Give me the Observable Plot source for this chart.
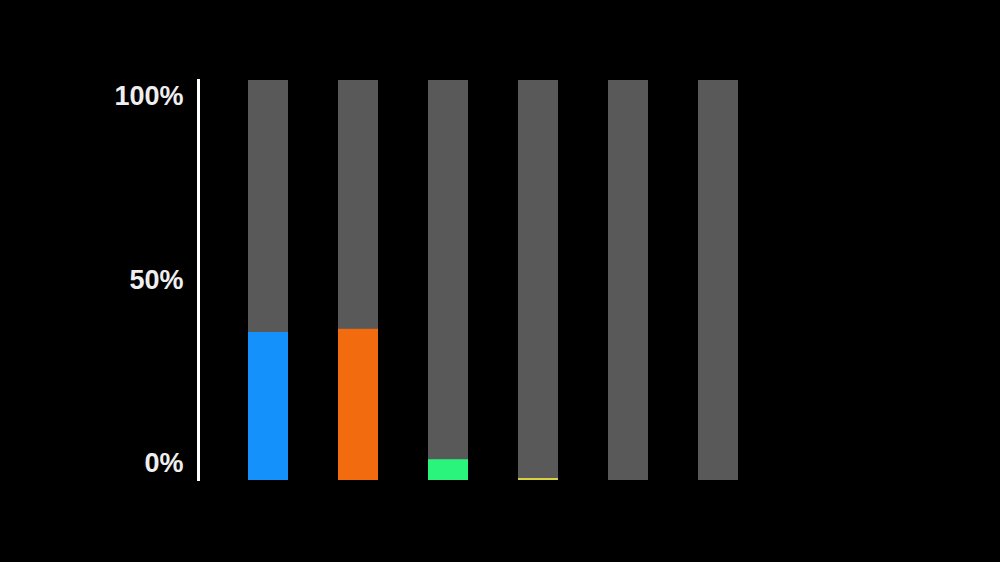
<!DOCTYPE html>
<html>
<head>
<meta charset="utf-8">
<script src="https://cdn.jsdelivr.net/npm/d3@7"></script>
<script src="https://cdn.jsdelivr.net/npm/@observablehq/plot@0.6"></script>
<style>
  html, body { margin: 0; padding: 0; background: #000; }
  #chart { width: 1000px; height: 562px; overflow: hidden; }
</style>
</head>
<body>
<div id="chart"></div>
<script>
// Data
const categories = ["A", "B", "C", "D", "E", "F"];
const values = [37, 37.8, 5.2, 0.5, 0, 0];          // percent filled
const colors = ["#1591fb", "#f26b0e", "#2af47b", "#d8d23c", "#1591fb", "#1591fb"];
const tickValues = [0, 50, 100];
const tickLabels = ["0%", "50%", "100%"];

const rows = categories.map((c, i) => ({cat: c, value: values[i], color: colors[i]}));
const ticks = tickValues.map((v, i) => ({v, label: tickLabels[i]}));

const labelStyle = {
  frameAnchor: "left", textAnchor: "end", dx: -39,
  fill: "#efefef", fontSize: 27, fontWeight: "bold",
  fontFamily: "Liberation Sans, Arial, sans-serif"
};

const chart = Plot.plot({
  width: 1000,
  height: 562,
  marginLeft: 222,
  marginRight: 236,
  marginTop: 80,
  marginBottom: 82,
  style: {background: "#000", color: "#efefef"},
  x: {domain: categories, paddingInner: 0.5556, paddingOuter: 0.2778, axis: null},
  y: {domain: [0, 100], axis: null},
  marks: [
    Plot.barY(rows, {x: "cat", y1: 0, y2: 100, fill: "#595959"}),
    Plot.barY(rows, {x: "cat", y1: 0, y2: "value", fill: "color"}),
    Plot.frame({anchor: "left", stroke: "#ffffff", strokeWidth: 3, dx: -24, insetBottom: 1}),
    Plot.text(ticks, {...labelStyle, filter: d => d.v === 100, y: "v", text: "label", lineAnchor: "top", dy: 5}),
    Plot.text(ticks, {...labelStyle, filter: d => d.v === 50, y: "v", text: "label", lineAnchor: "middle"}),
    Plot.text(ticks, {...labelStyle, filter: d => d.v === 0, y: "v", text: "label", lineAnchor: "bottom", dy: -9})
  ]
});
document.getElementById("chart").appendChild(chart);
</script>
</body>
</html>
